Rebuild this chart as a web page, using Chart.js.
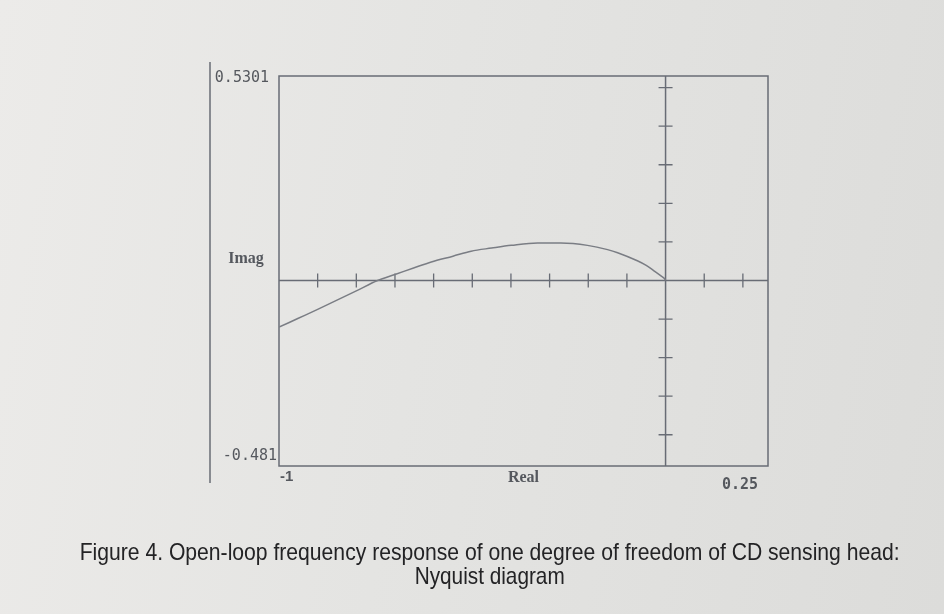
<!DOCTYPE html>
<html>
<head>
<meta charset="utf-8">
<script src="https://cdn.jsdelivr.net/npm/chart.js@4/dist/chart.umd.min.js"></script>
<style>
  html, body { margin: 0; padding: 0; }
  body {
    width: 944px; height: 614px; overflow: hidden; position: relative;
    background: linear-gradient(100deg, #ecebe9 0%, #e4e4e2 45%, #dcdcda 100%);
  }
  #wrap { position: absolute; left: 0; top: 0; width: 944px; height: 614px; }
  .cap {
    position: absolute; left: 0; width: 980px; text-align: center;
    font-family: "Liberation Sans Narrow", "Liberation Sans", Arial, sans-serif;
    font-size: 24px; color: #232325; white-space: nowrap; line-height: 26px;
  }
  .cap span { display: inline-block; transform-origin: center center; }
</style>
</head>
<body>
<div id="wrap"><canvas id="c" width="944" height="614"></canvas></div>
<div class="cap" id="cap1" style="top:539px"><span>Figure 4. Open-loop frequency response of one degree of freedom of CD sensing head:</span></div>
<div class="cap" id="cap2" style="top:563px"><span>Nyquist diagram</span></div>
<script>
// ---- data ----
const realValues = [-1, -0.95, -0.9, -0.8, -0.745, -0.7, -0.65, -0.606, -0.55, -0.503, -0.45, -0.399, -0.331, -0.271, -0.202, -0.15, -0.124, -0.073, -0.05, -0.03, -0.012, -0.003, 0];
const imagValues = [-0.121, -0.098, -0.075, -0.027, 0, 0.0155, 0.033, 0.048, 0.063, 0.076, 0.084, 0.091, 0.097, 0.097, 0.091, 0.080, 0.072, 0.051, 0.039, 0.025, 0.012, 0.005, 0];
const xAxisMin = -1, xAxisMax = 0.265;
const yAxisMin = -0.481, yAxisMax = 0.5301;
const xTickLabels = ['-1', '0.25'];
const yTickLabels = ['0.5301', '-0.481'];
const xTitle = 'Real', yTitle = 'Imag';
const xMinorTicks = [-0.9, -0.8, -0.7, -0.6, -0.5, -0.4, -0.3, -0.2, -0.1, 0.1, 0.2];
const yMinorTicks = [-0.4, -0.3, -0.2, -0.1, 0.1, 0.2, 0.3, 0.4, 0.5];

const points = realValues.map((x, i) => ({ x: x, y: imagValues[i] }));
const ink = '#686c75';

const framePlugin = {
  id: 'frame',
  beforeDatasetsDraw(chart) {
    const { ctx, chartArea: a, scales: { x, y } } = chart;
    ctx.save();
    ctx.strokeStyle = ink;
    ctx.lineWidth = 1.5;
    // outer left rule
    ctx.beginPath(); ctx.moveTo(210, 62); ctx.lineTo(210, 483); ctx.stroke();
    // plot box
    ctx.strokeRect(a.left, a.top, a.right - a.left, a.bottom - a.top);
    // axes through origin
    const x0 = x.getPixelForValue(0), y0 = y.getPixelForValue(0);
    ctx.beginPath();
    ctx.moveTo(a.left, y0); ctx.lineTo(a.right, y0);
    ctx.moveTo(x0, a.top); ctx.lineTo(x0, a.bottom);
    ctx.stroke();
    ctx.lineWidth = 1.3;
    ctx.beginPath();
    xMinorTicks.forEach(v => { const px = x.getPixelForValue(v); ctx.moveTo(px, y0 - 7); ctx.lineTo(px, y0 + 7); });
    yMinorTicks.forEach(v => { const py = y.getPixelForValue(v); ctx.moveTo(x0 - 7, py); ctx.lineTo(x0 + 7, py); });
    ctx.stroke();

    // labels
    ctx.fillStyle = '#55585e';
    ctx.textBaseline = 'middle';
    ctx.font = '15px "DejaVu Sans Mono", "Liberation Mono", monospace';
    ctx.textAlign = 'right';
    ctx.fillText(yTickLabels[0], a.left - 10, y.getPixelForValue(yAxisMax) + 2);
    ctx.fillText(yTickLabels[1], a.left - 2, y.getPixelForValue(yAxisMin) - 10);
    ctx.font = 'bold 15px "DejaVu Sans Mono", "Liberation Mono", monospace';
    ctx.fillText(xTickLabels[1], a.right - 10, a.bottom + 19);
    ctx.textAlign = 'left';
    ctx.font = 'bold 15px "Liberation Sans", Arial, sans-serif';
    ctx.fillText(xTickLabels[0], a.left + 1, a.bottom + 11);
    ctx.textAlign = 'center';
    ctx.font = 'bold 16px "Liberation Serif", "DejaVu Serif", serif';
    ctx.fillText(yTitle, 246, y0 - 22);
    ctx.fillText(xTitle, (a.left + a.right) / 2 + 0, a.bottom + 12);
    ctx.restore();
  }
};

new Chart(document.getElementById('c'), {
  type: 'scatter',
  data: {
    datasets: [{
      data: points,
      showLine: true,
      borderColor: '#7a7d84',
      borderWidth: 1.5,
      pointRadius: 0,
      cubicInterpolationMode: 'monotone',
      fill: false
    }]
  },
  options: {
    responsive: false,
    animation: false,
    layout: { padding: { left: 279, right: 176, top: 76, bottom: 148 } },
    plugins: { legend: { display: false }, tooltip: { enabled: false } },
    scales: {
      x: { type: 'linear', min: xAxisMin, max: xAxisMax, display: false },
      y: { type: 'linear', min: yAxisMin, max: yAxisMax, display: false }
    }
  },
  plugins: [framePlugin]
});

// fit caption lines to the measured widths of the reference
function fit(id, target) {
  const s = document.querySelector('#' + id + ' span');
  const w = s.getBoundingClientRect().width;
  s.style.transform = 'scaleX(' + (target / w) + ')';
}
fit('cap1', 820);
fit('cap2', 150);
</script>
</body>
</html>
